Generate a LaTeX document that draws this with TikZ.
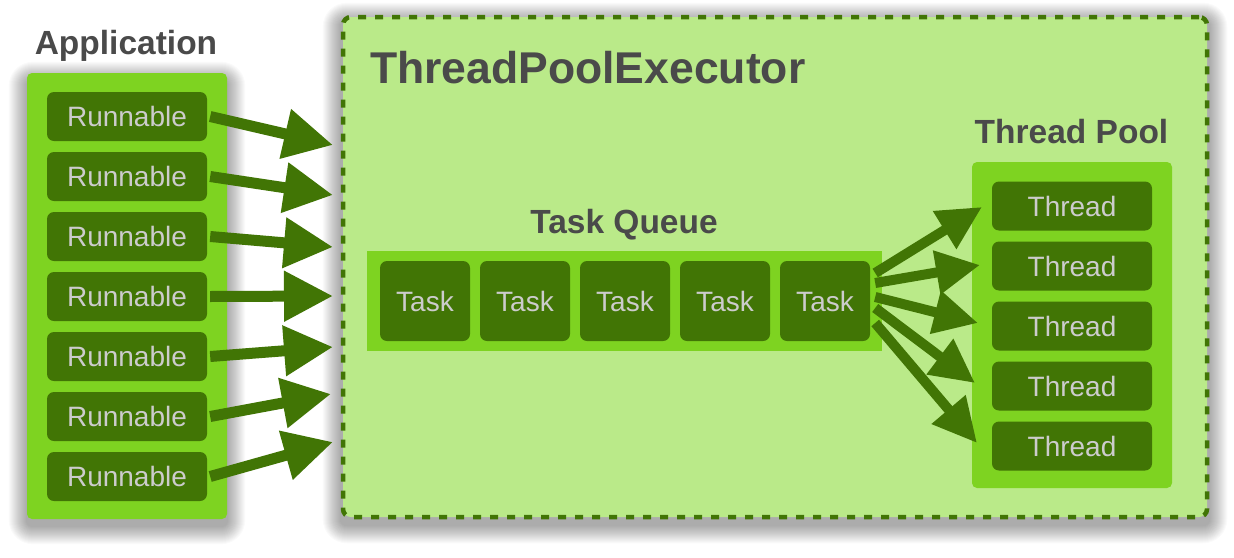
\documentclass[tikz,border=0pt]{standalone}
\usepackage{fontspec}
\setmainfont{Liberation Sans}
\usetikzlibrary{arrows.meta,calc}
\pgfdeclarelayer{bg}
\pgfdeclarelayer{shadow}
\pgfsetlayers{bg,shadow,main}
\definecolor{dkgreen}{RGB}{65,117,5}
\definecolor{mdgreen}{RGB}{126,211,33}
\definecolor{ltgreen}{RGB}{186,234,137}
\definecolor{titlegray}{RGB}{74,74,74}
\definecolor{lbltext}{RGB}{204,204,204}
\begin{document}
\begin{tikzpicture}[x=1pt,y=-1pt,
  item/.style={fill=dkgreen, rounded corners=7pt, text=lbltext,
    font=\fontsize{28}{30}\selectfont, inner sep=0pt,
    minimum width=160pt, minimum height=49pt},
  taskbox/.style={item, minimum width=90pt, minimum height=80pt},
  panel/.style={fill=mdgreen, rounded corners=5pt, inner sep=0pt},
  shadowstep/.style={fill=black, opacity=0.021},
  ttl/.style={text=titlegray, inner sep=0pt, font=\bfseries\fontsize{33.5}{36}\selectfont},
  bigarrow/.style={draw=dkgreen, line width=11pt,
    -{Triangle[length=49pt,width=48pt]}},
  smallarrow/.style={draw=dkgreen, line width=10pt,
    -{Triangle[length=44pt,width=42pt]}}]
\useasboundingbox (0,0) rectangle (1234,557);
\begin{pgfonlayer}{bg}
\fill[white] (0,0) rectangle (1234,557);
\end{pgfonlayer}

% executor
\node[fill=ltgreen, draw=dkgreen, line width=4.5pt,
  dash pattern=on 8pt off 9pt, rounded corners=8pt, inner sep=0pt,
  minimum width=864pt, minimum height=500pt] (exec) at (775,267) {};
\node[ttl, anchor=base west, font=\bfseries\fontsize{44.5}{46}\selectfont] (execT) at (370,83) {ThreadPoolExecutor};

% application
\node[panel, minimum width=200pt, minimum height=446pt] (app) at (127,296) {};
\node[ttl, anchor=base] (appT) at (126,54) {Application};
\foreach \i/\y in {1/116.5,2/176.5,3/236.5,4/296.5,5/356.5,6/416.5,7/476.5}
  \node[item] (r\i) at (127,\y) {Runnable};

% soft shadows
\begin{pgfonlayer}{shadow}
\foreach \k in {1,...,18}{
  \pgfmathsetmacro\rr{6+\k}
  \fill[shadowstep, rounded corners=\rr pt]
    ($(app.north west)+(-\k,7-\k)$) rectangle ($(app.south east)+(\k,7+\k)$);
  \fill[shadowstep, rounded corners=\rr pt]
    ($(exec.north west)+(-\k,6-\k)$) rectangle ($(exec.south east)+(\k,6+\k)$);
}
\end{pgfonlayer}

% task queue
\node[ttl, anchor=base] (queueT) at (624,233) {Task Queue};
\node[fill=mdgreen, inner sep=0pt, minimum width=515pt, minimum height=100pt] (band) at (624.5,301) {};
\foreach \i/\x in {1/425,2/525,3/625,4/725,5/825}
  \node[taskbox] (k\i) at (\x,301) {Task};

% thread pool
\node[ttl, anchor=base] (poolT) at (1071.5,143) {Thread Pool};
\node[panel, minimum width=200pt, minimum height=326pt] (pool) at (1072,325) {};
\foreach \i/\y in {1/206,2/266,3/326,4/386,5/446}
  \node[item] (th\i) at (1072,\y) {Thread};

% arrow targets
\coordinate (e1) at (333,145);
\coordinate (e2) at (333,195);
\coordinate (e3) at (333,247);
\coordinate (e4) at (333,296);
\coordinate (e5) at (333,347);
\coordinate (e6) at (331,394);
\coordinate (e7) at (333,442);
\foreach \i in {1,...,7}
  \draw[bigarrow] ([xshift=3pt]r\i.east) -- (e\i);

\coordinate (p1) at (982,207);
\coordinate (p2) at (980,265);
\coordinate (p3) at (978,323);
\coordinate (p4) at (975,383);
\coordinate (p5) at (977,443);
\draw[smallarrow] ($(k5.east)+(5,-28)$) -- (p1);
\draw[smallarrow] ($(k5.east)+(5,-18)$) -- (p2);
\draw[smallarrow] ($(k5.east)+(5,-4)$) -- (p3);
\draw[smallarrow] ($(k5.east)+(5,7)$) -- (p4);
\draw[smallarrow] ($(k5.east)+(5,22)$) -- (p5);
\end{tikzpicture}
\end{document}
